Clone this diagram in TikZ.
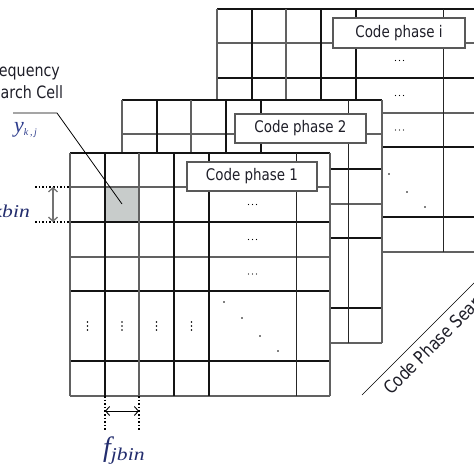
\documentclass[tikz,border=0pt]{standalone}
\usepackage{fontspec}
\setmainfont{Liberation Serif}
\newfontfamily\tah[FakeStretch=0.84]{DejaVu Sans}
\newfontfamily\wideserif[FakeStretch=1.2]{Liberation Serif}
\usetikzlibrary{arrows.meta}
\definecolor{lbl}{RGB}{30,30,40}
\definecolor{mathc}{RGB}{35,45,110}
\definecolor{ycol}{RGB}{45,60,140}
\definecolor{cellc}{RGB}{200,204,203}
\tikzset{
  bl/.style={line width=1.1pt, black!92},
  gl/.style={line width=1.5pt, black!62},
  tl/.style={line width=0.8pt, black!85},
  lab/.style={draw=black!65, line width=1.1pt, fill=white, minimum width=130pt, minimum height=29pt, inner sep=0pt, font=\tah\fontsize{16}{16}\selectfont, text=lbl},
  ext/.style={line width=1.6pt, dash pattern=on 1.6pt off 2pt, black},
  dimarr/.style={{Straight Barb[length=4pt,width=9pt]}-{Straight Barb[length=4pt,width=9pt]}},
}
\newcommand\mygrid[3]{%
\begin{scope}[shift={(#1,#2)}]
  \fill[white] (0,0) rectangle (260,243);
  #3
  \foreach \yy/\s in {0/bl,34/gl,69/bl,104/gl,138/bl,208/bl,243/gl} \draw[\s] (0,\yy) -- (260,\yy);
  \foreach \xx/\s in {0/gl,35/bl,69/gl,104/bl,139/bl,226/tl,260/gl} \draw[\s] (\xx,0) -- (\xx,243);
\end{scope}}
\newcommand\mydots{%
  \foreach \yy in {51.5,86.5,121} \foreach \d in {-4,0,4} \fill (182.5+\d,\yy) circle (0.7);
  \foreach \p in {(154,149),(172,165),(190,183),(208,198)} \fill \p circle (0.9);
}
\newcommand\myvdots{%
  \foreach \xx in {17.5,52,86.5,121.5} \foreach \d in {-4,0,4} \fill (\xx,173+\d) circle (0.8);
}
\begin{document}
\begin{tikzpicture}[x=1pt,y=-1pt]
\useasboundingbox (0,0) rectangle (474,474);
% code phase i
\mygrid{217}{9}{\mydots}
\node[lab, minimum width=132pt, minimum height=30pt] (cpi) at (399,33) {Code phase i};
% code phase 2
\mygrid{122}{100}{}
\node[lab, minimum width=131pt] (cp2) at (300.5,128.5) {Code phase 2};
% code phase 1
\mygrid{70}{153}{\fill[cellc] (35,34) rectangle (69,69); \mydots \myvdots}
\node[lab] (cp1) at (252,176.5) {Code phase 1};
% frequency search cell label
\node[font=\tah\fontsize{17}{22}\selectfont, text=lbl, align=center, inner sep=0pt] (fsc) at (23,81) {Frequency\\Search Cell};
\coordinate (l1) at (13,113);
\coordinate (l2) at (57,113);
\coordinate (l3) at (122,204);
\draw[line width=0.8pt] (l1) -- (l2) -- (l3);
\node[anchor=base west, text=ycol, inner sep=0pt] (ykj) at (14,132) {\fontsize{22}{22}\selectfont\itshape y\raisebox{-3pt}{\fontsize{10}{10}\selectfont k\,,\,j}};
% left dimension
\coordinate (e1a) at (35,187); \coordinate (e1b) at (70,187);
\coordinate (e2a) at (35,222); \coordinate (e2b) at (70,222);
\draw[ext] (e1a) -- (e1b);
\draw[ext] (e2a) -- (e2b);
\coordinate (d1) at (53,187); \coordinate (d2) at (53,222);
\draw[dimarr, line width=1.3pt, black!55] (d1) -- (d2);
\node[anchor=base east, text=mathc, inner sep=0pt] (fk) at (30,213) {\fontsize{28}{28}\selectfont\itshape f\kern3pt\raisebox{-4pt}{\fontsize{18}{18}\wideserif\itshape kbin}};
% bottom dimension
\coordinate (b1a) at (105,396); \coordinate (b1b) at (105,431);
\coordinate (b2a) at (139,396); \coordinate (b2b) at (139,431);
\draw[ext] (b1a) -- (b1b);
\draw[ext] (b2a) -- (b2b);
\coordinate (h1) at (105,411); \coordinate (h2) at (139,411);
\draw[dimarr, line width=0.9pt] (h1) -- (h2);
\node[anchor=base west, text=mathc, inner sep=0pt] (fj) at (103,456) {\fontsize{28}{28}\selectfont\itshape f\raisebox{-4pt}{\fontsize{18}{18}\wideserif\itshape jbin}};
% code phase search axis
\coordinate (s1) at (362,395);
\coordinate (s2) at (478,279);
\draw[line width=0.6pt] (s1) -- (s2);
\node[rotate=45, anchor=base west, inner sep=0pt, font=\tah\fontsize{18}{18}\selectfont, text=lbl] (cps) at (391,396) {Code Phase Search};
\end{tikzpicture}
\end{document}
